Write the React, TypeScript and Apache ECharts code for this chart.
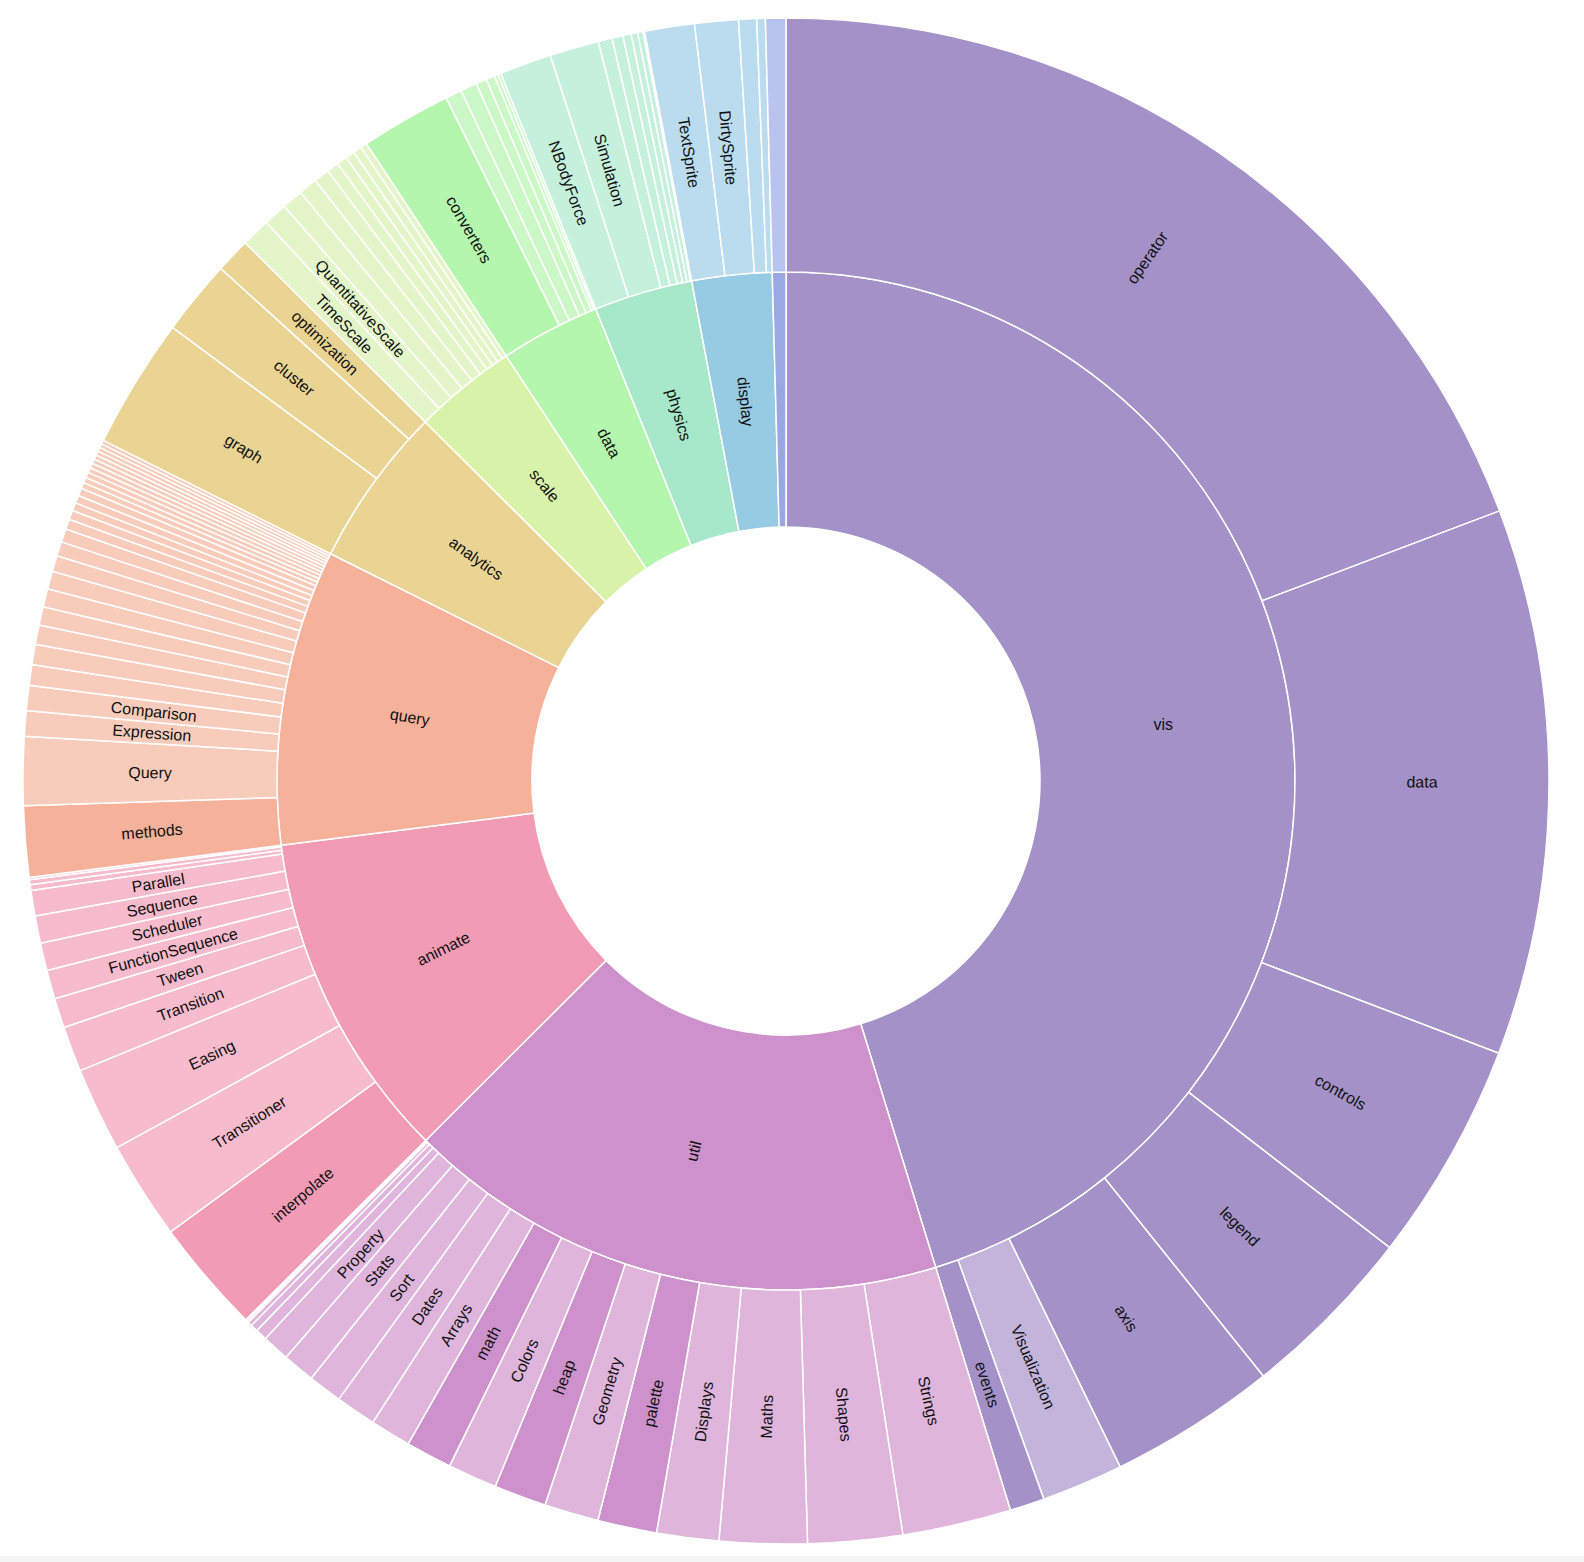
import React, { useEffect, useRef } from 'react';
import * as echarts from 'echarts';

// flare package sizes, two levels deep
const packages = ['vis', 'util', 'animate', 'query', 'analytics', 'scale', 'data', 'physics', 'display', 'flex'];

const visItems: [string, number][] = [
  ['operator', 183967], ['data', 110583], ['controls', 44639], ['legend', 36003],
  ['axis', 33886], ['Visualization', 16540], ['events', 7011],
];
const utilItems: [string, number][] = [
  ['Strings', 22026], ['Shapes', 19118], ['Maths', 17705], ['Displays', 12555], ['palette', 11946],
  ['Geometry', 10993], ['heap', 10587], ['Colors', 10001], ['math', 9346], ['Arrays', 8258],
  ['Dates', 8217], ['Sort', 6887], ['Stats', 6557], ['Property', 5559], ['Filter', 2324],
  ['Orientation', 1486], ['IValueProxy', 874], ['IPredicate', 383], ['IEvaluable', 335],
];
const animateItems: [string, number][] = [
  ['interpolate', 23085], ['Transitioner', 19975], ['Easing', 17010], ['Transition', 9201],
  ['Tween', 6006], ['FunctionSequence', 5842], ['Scheduler', 5593], ['Sequence', 5534],
  ['Parallel', 5176], ['TransitionEvent', 1116], ['ISchedulable', 1041], ['Pause', 449],
];
const queryItems: [string, number][] = [
  ['methods', 14326], ['Query', 13896], ['Expression', 5130], ['Comparison', 5103], ['DateUtil', 4141],
  ['StringUtil', 4130], ['Arithmetic', 3891], ['Match', 3748], ['CompositeExpression', 3677],
  ['ExpressionIterator', 3617], ['Fn', 3240], ['BinaryExpression', 2893], ['If', 2732], ['IsA', 2039],
  ['Variance', 1876], ['AggregateExpression', 1616], ['Range', 1594], ['Not', 1554], ['Literal', 1214],
  ['Variable', 1124], ['Xor', 1101], ['And', 1027], ['Or', 970], ['Distinct', 933], ['Average', 891],
  ['Maximum', 843], ['Minimum', 843], ['Sum', 791], ['Count', 781],
];
const analyticsItems: [string, number][] = [
  ['graph', 26435], ['cluster', 15207], ['optimization', 7074],
];
const scaleItems: [string, number][] = [
  ['TimeScale', 5833], ['QuantitativeScale', 4839], ['Scale', 4268], ['OrdinalScale', 3770],
  ['LogScale', 3151], ['QuantileScale', 2435], ['IScaleMap', 2105], ['ScaleType', 1821],
  ['RootScale', 1756], ['LinearScale', 1316],
];
const dataItems: [string, number][] = [
  ['converters', 18349], ['DataSource', 3331], ['DataUtil', 3322], ['DataSchema', 2165],
  ['DataField', 1759], ['DataTable', 772], ['DataSet', 586],
];
const physicsItems: [string, number][] = [
  ['NBodyForce', 10498], ['Simulation', 9983], ['Particle', 2822], ['Spring', 2213],
  ['SpringForce', 1681], ['GravityForce', 1336], ['DragForce', 1082], ['IForce', 319],
];
const displayItems: [string, number][] = [
  ['TextSprite', 10066], ['DirtySprite', 8833], ['RectSprite', 3623], ['LineSprite', 1732],
];
const flexItems: [string, number][] = [['FlareVis', 4116]];

// children that have children of their own keep the parent's colour
const branches = [
  'vis/operator', 'vis/data', 'vis/controls', 'vis/legend', 'vis/axis', 'vis/events',
  'util/palette', 'util/heap', 'util/math', 'animate/interpolate', 'query/methods',
  'analytics/graph', 'analytics/cluster', 'analytics/optimization', 'data/converters',
];

const baseColors = ['#a391c8', '#cd91cb', '#f19bb4', '#f5b199', '#e9d494', '#d9f2aa', '#b4f6ad', '#a8e8ca', '#97cae3', '#99a8e0'];
const leafColors = ['#c2b4da', '#dfb5dc', '#f6bccd', '#f8ccba', '#f2e4bb', '#e4f6c9', '#ccf8c7', '#c5f0dc', '#badcee', '#b8c4ee'];

const childLists = [visItems, utilItems, animateItems, queryItems, analyticsItems, scaleItems, dataItems, physicsItems, displayItems, flexItems];

const App: React.FC = () => {
  const chartRef = useRef<HTMLDivElement>(null);

  useEffect(() => {
    if (!chartRef.current) return;
    document.body.style.background = '#f3f3f3';
    const chart = echarts.init(chartRef.current, null, { renderer: 'svg' });

    const treeData = packages.map((pkg, i) => ({
      name: pkg,
      itemStyle: { color: baseColors[i] },
      label: pkg === 'vis' ? { rotate: 0 } : undefined,
      children: childLists[i].map(([name, value]) => ({
        name,
        value,
        itemStyle: { color: branches.includes(pkg + '/' + name) ? baseColors[i] : leafColors[i] },
      })),
    }));

    chart.setOption({
      animation: false,
      backgroundColor: '#ffffff',
      series: [
        {
          type: 'sunburst',
          center: [786, 781],
          radius: [254, 763],
          sort: 'desc',
          nodeClick: false,
          emphasis: { focus: 'none' },
          data: treeData,
          itemStyle: { borderColor: '#ffffff', borderWidth: 1.5 },
          label: {
            rotate: 'radial',
            minAngle: 1.7,
            fontFamily: '"Liberation Sans", Arial, sans-serif',
            fontSize: 16,
            color: '#111111',
          },
          levels: [
            {},
            { r0: 254, r: 509 },
            { r0: 509, r: 763 },
          ],
        },
      ],
    });

    return () => {
      chart.dispose();
    };
  }, []);

  return (
    <div
      ref={chartRef}
      style={{ position: 'fixed', left: 0, top: 0, width: 1584, height: 1556, background: '#ffffff' }}
    />
  );
};

export default App;
